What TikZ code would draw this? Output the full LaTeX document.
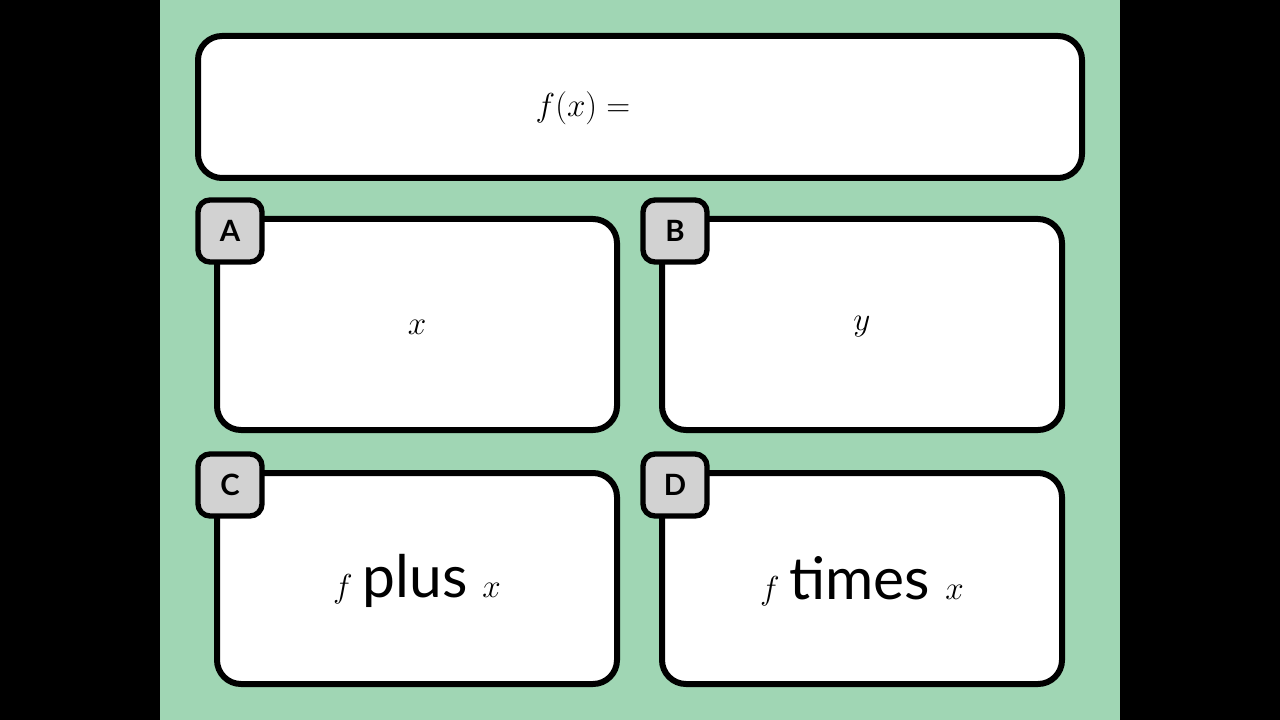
\documentclass[tikz,border=0pt]{standalone}
\usepackage{fontspec}
\setsansfont{Lato}
\begin{document}
\begin{tikzpicture}[x=0.75pt,y=-0.75pt,
  card/.style={draw=black,line width=4.5pt,fill=white,rounded corners=18pt},
  badge/.style={draw=black,line width=4pt,fill=gray!35,rounded corners=9pt},
  big/.style={font=\fontsize{44}{50}\selectfont},
  lab/.style={font=\sffamily\bfseries\fontsize{22}{24}\selectfont}]
\useasboundingbox (0,0) rectangle (1280,720);
\fill[black] (0,0) rectangle (1280,720);
\fill[fill={rgb,255:red,160;green,214;blue,180}] (160,0) rectangle (1120,720);
\draw[card] (198,36) rectangle (1082,178);
\node[big] (q) at (583,108) {$f(x) =$};
\foreach \n/\x/\y/\t in {A/217/219/{$x$},B/662/219/{$y$},C/217/473/{$f$\,\sffamily plus $x$},D/662/473/{$f$\,\sffamily times $x$}}{
  \draw[card] (\x,\y) rectangle ++(400,211);
  \node[big] (t\n) at (\x+200,\y+108) {\t};
  \draw[badge] (\x-19,\y-19) rectangle ++(64,62);
  \node[lab] (b\n) at (\x+13,\y+12) {\n};
}
\end{tikzpicture}
\end{document}
